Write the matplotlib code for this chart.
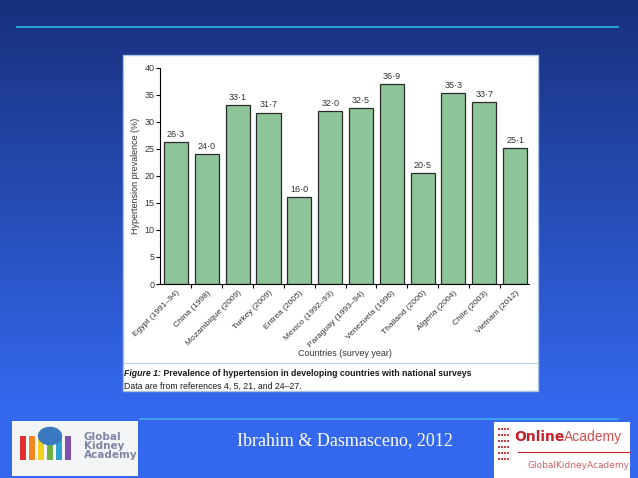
import numpy as np
import matplotlib
matplotlib.use("Agg")
import matplotlib.pyplot as plt
from matplotlib.patches import Rectangle
from matplotlib.lines import Line2D

# chart data
countries = ["Egypt (1991–94)", "China (1998)", "Mozambique (2009)", "Turkey (2009)",
             "Eritrea (2005)", "Mexico (1992–93)", "Paraguay (1993–94)", "Venezuela (1996)",
             "Thailand (2000)", "Algeria (2004)", "Chile (2003)", "Vietnam (2012)"]
prevalence = [26.3, 24.0, 33.1, 31.7, 16.0, 32.0, 32.5, 36.9, 20.5, 35.3, 33.7, 25.1]
y_ticks = [0, 5, 10, 15, 20, 25, 30, 35, 40]

W, H = 638, 478
plt.rcParams['font.family'] = ['Liberation Sans', 'DejaVu Sans']

fig = plt.figure(figsize=(W / 100, H / 100), dpi=100)


def fx(px):
    return px / W


def fy(py):
    return 1 - py / H


# slide background gradient
bg = fig.add_axes([0, 0, 1, 1])
bg.set_axis_off()
top = np.array([24, 48, 124]) / 255
bot = np.array([52, 104, 238]) / 255
t = np.clip(np.linspace(0, 1, 300) / 0.85, 0, 1)[:, None]
grad = top * (1 - t) + bot * t
bg.imshow(grad[:, None, :], aspect='auto', extent=[0, 1, 0, 1], origin='upper')
bg.set_xlim(0, 1)
bg.set_ylim(0, 1)

# slide rules
bg.add_line(Line2D([fx(17), fx(618)], [fy(27), fy(27)], color='#2aa6dc', lw=1.4))
bg.add_line(Line2D([fx(140), fx(618)], [fy(419), fy(419)], color='#3fa0f0', lw=1.4))

# white figure panel
bg.add_patch(Rectangle((fx(123), fy(391)), fx(538) - fx(123), fy(55) - fy(391),
                       facecolor='white', edgecolor='#a9c4e4', lw=1))
bg.add_line(Line2D([fx(124), fx(537)], [fy(363), fy(363)], color='#b8cfe0', lw=0.8))
fig_lbl = bg.text(fx(124), fy(374), "Figure 1:", fontsize=6.3, fontweight='bold',
                  fontstyle='italic', color='#1a1a1a', va='center', ha='left')
bg.annotate(" Prevalence of hypertension in developing countries with national surveys",
            xy=(1, 0.5), xycoords=fig_lbl, fontsize=6.3, fontweight='bold',
            color='#1a1a1a', va='center', ha='left')
bg.text(fx(124), fy(386), "Data are from references 4, 5, 21, and 24–27.",
        fontsize=6.3, color='#1a1a1a', va='center', ha='left')

# footer
bg.text(fx(345), fy(441), "Ibrahim & Dasmasceno, 2012", fontsize=13, color='white',
        family='Liberation Serif', ha='center', va='center')

# left logo
bg.add_patch(Rectangle((fx(12), fy(476)), fx(138) - fx(12), fy(421) - fy(476),
                       facecolor='#f4f5f7', edgecolor='none'))
people = ['#e03030', '#f08a20', '#f0d020', '#70b040', '#30a0d0', '#8050b0']
for i, c in enumerate(people):
    bg.add_patch(Rectangle((fx(20 + i * 9), fy(460)), fx(6), fy(436) - fy(460),
                           facecolor=c, edgecolor='none'))
bg.add_patch(plt.Circle((fx(50), fy(436)), 0.018, color='#3a78c0'))
bg.text(fx(84), fy(446), "Global\nKidney\nAcademy", fontsize=7.5, fontweight='bold',
        color='#7f86a4', family='DejaVu Sans', ha='left', va='center', linespacing=0.9)

# right logo
bg.add_patch(Rectangle((fx(494), fy(478)), fx(630) - fx(494), fy(422) - fy(478),
                       facecolor='white', edgecolor='none'))
for r in range(6):
    for c in range(4):
        bg.add_patch(Rectangle((fx(498 + c * 3), fy(430 + r * 6)), fx(2), fy(0) - fy(2),
                               facecolor='#d0404a', edgecolor='none'))
online = bg.text(fx(514), fy(437), "Online", fontsize=10, fontweight='bold', color='#c8202a',
                 family='DejaVu Sans', ha='left', va='center')
bg.annotate("Academy", xy=(1, 0.5), xycoords=online, fontsize=10, color='#d05050',
            family='Liberation Sans', ha='left', va='center')
bg.add_line(Line2D([fx(518), fx(630)], [fy(452), fy(452)], color='#c8202a', lw=0.8))
bg.text(fx(629), fy(466), "GlobalKidneyAcademy", fontsize=6.5, color='#d06060',
        family='DejaVu Sans', ha='right', va='center')

# bar chart
ax = fig.add_axes([fx(160), fy(284), fx(529) - fx(160), fy(67.7) - fy(284)])
x = np.arange(len(countries))
ax.bar(x, prevalence, width=0.78, color='#8ec49a', edgecolor='#2a2a2a', linewidth=0.9)
for xi, v in zip(x, prevalence):
    ax.text(xi, v + 0.6, f"{v:.1f}".replace('.', '·'), ha='center', va='bottom',
            fontsize=6.5, color='#333333')

ax.set_xlim(-0.52, len(countries) - 0.55)
ax.set_ylim(0, 40)
ax.set_yticks(y_ticks)
ax.set_xticks(x[:-1] + 0.5)
ax.set_xticklabels([])
ax.set_xticks(x, minor=True)
ax.set_xticklabels(countries, minor=True, rotation=45, ha='right', va='top',
                   rotation_mode='anchor', fontsize=6, color='#333333')
ax.tick_params(axis='x', which='minor', length=0, pad=4)
ax.tick_params(axis='x', which='major', length=3, width=0.8, direction='out')
ax.tick_params(axis='y', length=3, width=0.8, labelsize=6.5, labelcolor='#333333', pad=1)
ax.spines['top'].set_visible(False)
ax.spines['right'].set_visible(False)
ax.spines['left'].set_linewidth(0.8)
ax.spines['bottom'].set_linewidth(0.8)
ax.set_ylabel("Hypertension prevalence (%)", fontsize=6.5, color='#333333', labelpad=3)
ax.set_xlabel("Countries (survey year)", fontsize=6.5, color='#333333')
ax.xaxis.set_label_coords(0.5, -0.30)

fig.savefig("out.png", dpi=100)
